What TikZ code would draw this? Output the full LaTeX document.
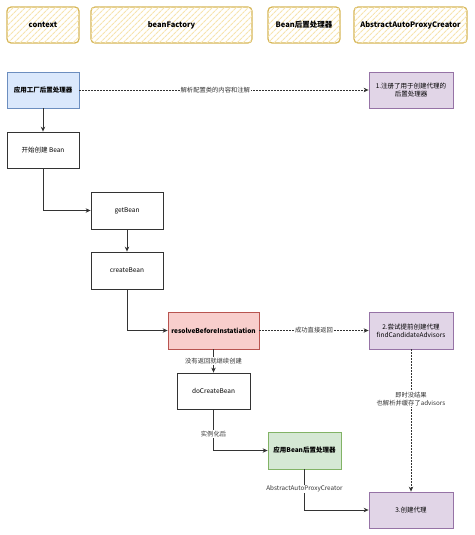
\documentclass[tikz,border=0pt]{standalone}
\usepackage{fontspec}
\setmainfont{Noto Sans CJK SC}
\usetikzlibrary{arrows.meta,patterns.meta}
\definecolor{hdrborder}{HTML}{D6B656}
\definecolor{hdrhatch}{HTML}{F7E4AE}
\definecolor{bluefill}{HTML}{DAE8FC}
\definecolor{blueline}{HTML}{6C8EBF}
\definecolor{purplefill}{HTML}{E1D5E7}
\definecolor{purpleline}{HTML}{9673A6}
\definecolor{redfill}{HTML}{F8CECC}
\definecolor{redline}{HTML}{B85450}
\definecolor{greenfill}{HTML}{D5E8D4}
\definecolor{greenline}{HTML}{82B366}
\definecolor{edgec}{HTML}{333333}
\begin{document}
\begin{tikzpicture}[x=1pt,y=-1pt,
  hdr/.style={draw=hdrborder,line width=1.2pt,rounded corners=4pt,fill=white,
    postaction={pattern={Lines[angle=45,distance=4pt,line width=1.1pt]},pattern color=hdrhatch},
    minimum height=36pt,inner sep=1pt,font=\fontsize{7.5}{9}\selectfont\bfseries},
  box/.style={draw=edgec,line width=0.8pt,fill=white,minimum width=72pt,minimum height=36pt,
    inner sep=1pt,align=center,font=\fontsize{6.5}{8}\selectfont},
  bluebox/.style={box,fill=bluefill,draw=blueline,font=\fontsize{6.5}{8}\selectfont\bfseries},
  purplebox/.style={box,fill=purplefill,draw=purpleline,minimum width=84pt},
  redbox/.style={box,fill=redfill,draw=redline,minimum width=91pt,minimum height=37pt,font=\fontsize{6.5}{8}\selectfont\bfseries},
  greenbox/.style={box,fill=greenfill,draw=greenline,minimum width=73pt,minimum height=37pt,font=\fontsize{6.5}{8}\selectfont\bfseries},
  conn/.style={draw=edgec,line width=0.8pt,-{Stealth[length=5pt,width=4.5pt]}},
  dotconn/.style={conn,dash pattern=on 1.2pt off 1.8pt},
  lbl/.style={fill=white,inner sep=1pt,font=\fontsize{6.3}{7.6}\selectfont,text=edgec,align=center}
]
\useasboundingbox (0,0) rectangle (474,535);
% headers
\node[hdr,minimum width=72pt] (hctx) at (43,25) {context};
\node[hdr,minimum width=161pt] (hbf) at (171.5,25) {beanFactory};
\node[hdr,minimum width=72pt] (hbpp) at (304,25) {Bean后置处理器};
\node[hdr,minimum width=113pt] (haapc) at (410.5,25) {AbstractAutoProxyCreator};
% nodes
\node[bluebox] (apply) at (43,90) {应用工厂后置处理器};
\node[purplebox] (reg) at (411,90) {1.注册了用于创建代理的\\后置处理器};
\node[box] (start) at (43,150) {开始创建 Bean};
\node[box,minimum height=37pt] (get) at (127,210.5) {getBean};
\node[box,minimum height=37pt] (create) at (127,270.5) {createBean};
\node[redbox] (resolve) at (213.5,330.5) {resolveBeforeInstatiation};
\node[purplebox,minimum height=37pt] (try) at (411,330.5) {2.尝试提前创建代理\\findCandidateAdvisors};
\node[box,minimum width=73pt] (docreate) at (213.5,391) {doCreateBean};
\node[greenbox] (applybpp) at (304.5,450.5) {应用Bean后置处理器};
\node[purplebox] (proxy) at (411,510) {3.创建代理};
% connectors
\draw[dotconn] (apply) -- node[lbl,pos=0.47] {解析配置类的内容和注解} (reg);
\draw[conn] (apply) -- (start);
\draw[conn] (start.south) |- (get.west);
\draw[conn] (get) -- (create);
\draw[conn] (create.south) |- (resolve.west);
\draw[dotconn] (resolve) -- node[lbl] {成功直接返回} (try);
\draw[conn] (resolve) -- node[lbl] {没有返回就继续创建} (docreate);
\draw[conn] (docreate.south) |- node[lbl,pos=0.3] {实例化后} (applybpp.west);
\draw[conn] (applybpp.south) |- node[lbl,pos=0.24] {AbstractAutoProxyCreator} (proxy.west);
\draw[dotconn] (try) -- node[lbl,pos=0.35] {即时没结果\\也解析并缓存了advisors} (proxy);
\end{tikzpicture}
\end{document}
